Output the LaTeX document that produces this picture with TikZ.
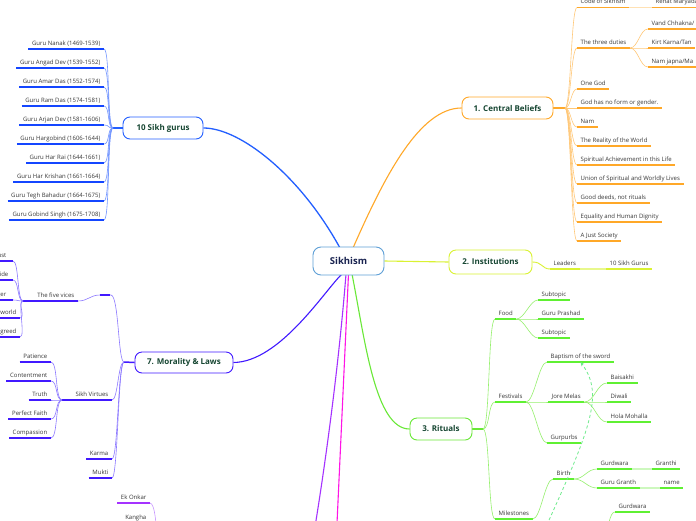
\documentclass[tikz,border=0pt]{standalone}
\usepackage{fontspec}
\setmainfont{Open Sans}
\usetikzlibrary{arrows.meta}
\definecolor{ctext}{RGB}{55,55,55}
\definecolor{mtext}{RGB}{22,70,50}
\definecolor{stext}{RGB}{25,35,80}
\definecolor{sborder}{RGB}{95,160,215}
\definecolor{gblue}{RGB}{35,95,255}
\definecolor{gbluel}{RGB}{115,150,255}
\definecolor{gul}{RGB}{20,70,255}
\definecolor{orng}{RGB}{255,168,40}
\definecolor{orngl}{RGB}{255,200,120}
\definecolor{orngf}{RGB}{255,225,180}
\definecolor{ylw}{RGB}{218,242,50}
\definecolor{ylwl}{RGB}{232,248,140}
\definecolor{grn}{RGB}{105,232,55}
\definecolor{grnl}{RGB}{150,240,110}
\definecolor{grnf}{RGB}{205,248,190}
\definecolor{grnul}{RGB}{95,240,50}
\definecolor{relc}{RGB}{110,235,140}
\definecolor{mor}{RGB}{65,25,255}
\definecolor{morl}{RGB}{140,120,255}
\definecolor{prp}{RGB}{165,50,255}
\definecolor{prpl}{RGB}{200,150,255}
\definecolor{mag}{RGB}{255,20,230}
\pgfdeclarelayer{bg}
\pgfsetlayers{bg,main}
\tikzset{
  mainbox/.style={draw=#1, rounded corners=7pt, line width=0.9pt, fill=white, inner sep=0pt,
    font=\bfseries\fontsize{8}{9}\selectfont, text=mtext},
  leaf/.style={inner xsep=3.5pt, inner ysep=2.6pt, text height=4.4pt, text depth=1.2pt,
    font=\fontsize{6}{7}\selectfont, text=ctext},
  rc/.style={leaf, anchor=south west},
  lc/.style={leaf, anchor=south east},
  ul/.style={line width=1.5pt, draw=#1},
  cn/.style={line width=0.6pt, draw=#1},
  br/.style={line width=1.1pt, draw=#1},
}
\begin{document}
\begin{tikzpicture}[x=1pt,y=-1pt]
\useasboundingbox (0,0) rectangle (696,520);

% central
\node[draw=sborder, rounded corners=8pt, line width=0.9pt, fill=white, minimum width=71pt,
  minimum height=28pt, inner sep=0pt, font=\bfseries\fontsize{9.5}{11}\selectfont, text=stext] (s) at (348.5,261) {Sikhism};
\coordinate (s1) at (340,248);
\coordinate (s2) at (353,248);
\coordinate (s3) at (352,274);
\coordinate (s4) at (342,274);
\coordinate (s5) at (346,274);
\coordinate (s6) at (348.5,274);
\coordinate (pend) at (312,545);
\coordinate (mend2) at (336,545);

% ---------- 10 Sikh gurus
\node[mainbox=gblue, minimum width=80pt, minimum height=22pt] (g) at (163,128) {10 Sikh gurus};
\coordinate (ghub) at (113,128);
\node[lc] (g1) at (104,49) {Guru Nanak (1469-1539)};
\node[lc] (g2) at (104,68) {Guru Angad Dev (1539-1552)};
\node[lc] (g3) at (104,87) {Guru Amar Das (1552-1574)};
\node[lc] (g4) at (104,106) {Guru Ram Das (1574-1581)};
\node[lc] (g5) at (104,125) {Guru Arjan Dev (1581-1606)};
\node[lc] (g6) at (104,144) {Guru Hargobind (1606-1644)};
\node[lc] (g7) at (104,163) {Guru Har Rai (1644-1661)};
\node[lc] (g8) at (104,182) {Guru Har Krishan (1661-1664)};
\node[lc] (g9) at (104,201) {Guru Tegh Bahadur (1664-1675)};
\node[lc] (g10) at (104,220) {Guru Gobind Singh (1675-1708)};

% ---------- 1. Central Beliefs
\node[mainbox=orng, minimum width=91pt, minimum height=22pt] (cb) at (507.5,108) {1. Central Beliefs};
\coordinate (cbhub) at (565,108);
\node[rc] (cb1) at (577,7.5) {Code of Sikhism};
\node[rc] (cb2) at (577,48) {The three duties};
\node[rc] (cb3) at (577,89) {One God};
\node[rc] (cb4) at (577,108) {God has no form or gender.};
\node[rc] (cb5) at (577,127) {Nam};
\node[rc] (cb6) at (577,146) {The Reality of the World};
\node[rc] (cb7) at (577,165) {Spiritual Achievement in this Life};
\node[rc] (cb8) at (577,184) {Union of Spiritual and Worldly Lives};
\node[rc] (cb9) at (577,203) {Good deeds, not rituals};
\node[rc] (cb10) at (577,222) {Equality and Human Dignity};
\node[rc] (cb11) at (577,241) {A Just Society};
\node[rc] (rm) at (652,7.5) {Rehat Maryada};
\node[rc] (td1) at (648,29) {Vand Chhakna/};
\node[rc] (td2) at (648,48) {Kirt Karna/Tan};
\node[rc] (td3) at (648,67) {Nam japna/Ma};

% ---------- 2. Institutions
\node[mainbox=ylw, minimum width=83pt, minimum height=24pt] (inst) at (490.5,262) {2. Institutions};
\node[rc] (ld) at (550,269) {Leaders};
\node[rc] (sg) at (606,269) {10 Sikh Gurus};

% ---------- 3. Rituals
\node[mainbox=grn, minimum width=62pt, minimum height=22pt] (rit) at (441,429) {3. Rituals};
\coordinate (rhub) at (483,429);
\node[rc] (food) at (495,319) {Food};
\node[rc] (fest) at (495,402) {Festivals};
\node[rc] (mile) at (495,519) {Milestones};
\node[rc] (f1) at (538,300) {Subtopic};
\node[rc] (f2) at (538,319) {Guru Prashad};
\node[rc] (f3) at (538,338) {Subtopic};
\node[rc] (fe1) at (547,362) {Baptism of the sword};
\node[rc] (fe2) at (548,402) {Jore Melas};
\node[rc] (fe3) at (547,443) {Gurpurbs};
\node[rc] (j1) at (607,383) {Baisakhi};
\node[rc] (j2) at (607,402) {Diwali};
\node[rc] (j3) at (607,422) {Hola Mohalla};
\node[rc] (birth) at (553,479) {Birth};
\node[rc] (b1) at (597,469) {Gurdwara};
\node[rc] (b2) at (597,488) {Guru Granth};
\node[rc] (gr) at (652,469) {Granthi};
\node[rc] (nm) at (660,488) {name};
\node[rc] (gw2) at (615,512) {Gurdwara};
\coordinate (gw2end) at (603,540);
\coordinate (relend) at (540,540);

% ---------- 7. Morality & Laws
\node[mainbox=mor, minimum width=98pt, minimum height=21pt] (mo) at (184,362.5) {7. Morality \& Laws};
\coordinate (mhub) at (124,362);
\node[lc] (fv) at (78,301) {The five vices};
\coordinate (fvhub) at (23,301);
\node[lc] (sv) at (112,400) {Sikh Virtues};
\coordinate (svhub) at (62,400);
\node[lc] (ka) at (112,459) {Karma};
\node[lc] (mu) at (112,478) {Mukti};
\node[lc] (v1) at (10,261) {Lust};
\node[lc] (v2) at (12,280) {Pride};
\node[lc] (v3) at (10,300) {Anger};
\node[lc] (v4) at (20,318) {Attachment to the world};
\node[lc] (v5) at (20,337) {Lobh/greed};
\coordinate (v1e) at (13,261);
\coordinate (v2e) at (13,280);
\coordinate (v3e) at (13,300);
\node[lc] (p1) at (51,362) {Patience};
\node[lc] (p2) at (51,381) {Contentment};
\node[lc] (p3) at (51,400) {Truth};
\node[lc] (p4) at (51,419) {Perfect Faith};
\node[lc] (p5) at (51,438) {Compassion};

% ---------- purple branch (off picture)
\node[lc] (eo) at (150,503) {Ek Onkar};
\node[lc] (kg) at (150,523) {Kangha};
\coordinate (phub) at (157,548);

\begin{pgfonlayer}{bg}
\fill[white] (0,0) rectangle (696,520);
% main branches
\draw[br=gblue, line width=1.3pt] (s1) .. controls (300,175) and (240,128) .. (g.east);
\draw[br=orng] (s2) .. controls (385,175) and (420,108) .. (cb.west);
\draw[br=ylw] (s.east) -- (inst.west);
\draw[br=grn] (s3) .. controls (365,340) and (375,429) .. (rit.west);
\draw[br=mor] (s4) .. controls (325,290) and (280,362) .. (mo.east);
\draw[br=prp] (s5) .. controls (340,350) and (328,450) .. (pend);
\draw[br=mag] (s6) -- (mend2);

% gurus
\draw[br=gblue] (g.west) -- (ghub);
\foreach \i in {1,...,10} {
  \draw[cn=gbluel] (ghub) .. controls +(-6,0) and +(6,0) .. (g\i.south east);
  \draw[ul=gul] (g\i.south west) -- (g\i.south east);
}

% central beliefs
\draw[br=orng, line width=1.5pt] (cb.east) -- (cbhub);
\foreach \i in {1,...,11} {
  \draw[cn=orngl] (cbhub) .. controls +(6,0) and +(-6,0) .. (cb\i.south west);
  \draw[ul=orng] (cb\i.south west) -- (cb\i.south east);
}
\draw[ul=orngf] (cb1.south east) -- (rm.south west);
\draw[ul=orng] (rm.south west) -- (rm.south east);
\foreach \i in {1,2,3} {
  \draw[cn=orngl] (cb2.south east) .. controls +(8,0) and +(-8,0) .. (td\i.south west);
  \draw[ul=orng] (td\i.south west) -- (td\i.south east);
}

% institutions
\draw[cn=ylw, line width=0.9pt] (inst.east) .. controls +(10,0) and +(-8,0) .. (ld.south west);
\draw[ul=ylw] (ld.south west) -- (ld.south east);
\draw[ul=ylwl] (ld.south east) -- (sg.south west);
\draw[ul=ylw] (sg.south west) -- (sg.south east);

% rituals
\draw[br=grn, line width=1.5pt] (rit.east) -- (rhub);
\foreach \n in {food,fest,mile} {
  \draw[cn=grnl] (rhub) .. controls +(7,0) and +(-7,0) .. (\n.south west);
  \draw[ul=grnul] (\n.south west) -- (\n.south east);
}
\foreach \n in {f1,f2,f3} {
  \draw[cn=grnl] (food.south east) .. controls +(8,0) and +(-8,0) .. (\n.south west);
  \draw[ul=grnul] (\n.south west) -- (\n.south east);
}
\foreach \n in {fe1,fe2,fe3} {
  \draw[cn=grnl] (fest.south east) .. controls +(8,0) and +(-8,0) .. (\n.south west);
  \draw[ul=grnul] (\n.south west) -- (\n.south east);
}
\foreach \n in {j1,j2,j3} {
  \draw[cn=grnl] (fe2.south east) .. controls +(10,0) and +(-10,0) .. (\n.south west);
  \draw[ul=grnul] (\n.south west) -- (\n.south east);
}
\draw[cn=grnl] (mile.south east) .. controls +(8,0) and +(-8,0) .. (birth.south west);
\draw[ul=grnul] (birth.south west) -- (birth.south east);
\foreach \n in {b1,b2} {
  \draw[cn=grnl] (birth.south east) .. controls +(10,0) and +(-10,0) .. (\n.south west);
  \draw[ul=grnul] (\n.south west) -- (\n.south east);
}
\draw[ul=grnf] (b1.south east) -- (gr.south west);
\draw[ul=grnul] (gr.south west) -- (gr.south east);
\draw[ul=grnf] (b2.south east) -- (nm.south west);
\draw[ul=grnul] (nm.south west) -- (nm.south east);
\draw[cn=grnl] (gw2end) .. controls +(6,-10) and +(-6,0) .. (gw2.south west);
\draw[ul=grnul] (gw2.south west) -- (gw2.south east);
\draw[relc, line width=0.8pt, dash pattern=on 3pt off 2.5pt, -{Stealth[length=4pt,width=3.5pt]}]
  (relend) .. controls (590,430) and (605,395) .. (fe1.south);

% morality
\draw[br=mor, line width=1.5pt] (mo.west) -- (mhub);
\draw[cn=morl] (mhub) .. controls (118,362) and (119,296) .. (111,295) -- (100,295)
  .. controls (90,295) and (88,301) .. (fv.south east);
\draw[ul=mor] (100,295) -- (110,295);
\draw[ul=mor] (fvhub) -- (fv.south east);
\draw[ul=mor] (svhub) -- (sv.south east);
\foreach \n in {sv,ka,mu} {
  \draw[cn=morl] (mhub) .. controls +(-6,0) and +(6,0) .. (\n.south east);
}
\draw[ul=mor] (ka.south west) -- (ka.south east);
\draw[ul=mor] (mu.south west) -- (mu.south east);
\foreach \n in {v1,v2,v3} {
  \draw[cn=morl] (fvhub) .. controls +(-6,0) and +(6,0) .. (\n e);
  \draw[ul=mor] (\n.south west) -- (\n e);
}
\foreach \n in {v4,v5} {
  \draw[cn=morl] (fvhub) .. controls +(-6,0) and +(6,0) .. (\n.south east);
  \draw[ul=mor] (\n.south west) -- (\n.south east);
}
\foreach \n in {p1,p2,p3,p4,p5} {
  \draw[cn=morl] (svhub) .. controls +(-7,0) and +(7,0) .. (\n.south east);
  \draw[ul=mor] (\n.south west) -- (\n.south east);
}

% purple branch children
\foreach \n in {eo,kg} {
  \draw[cn=prpl] (phub) .. controls +(0,-20) and +(5,0) .. (\n.south east);
  \draw[ul=prp] (\n.south west) -- (\n.south east);
}
\end{pgfonlayer}
\end{tikzpicture}
\end{document}
